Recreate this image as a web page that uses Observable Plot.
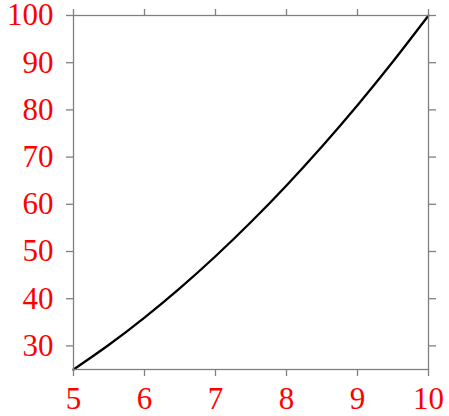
<!DOCTYPE html>
<html>
<head>
<meta charset="utf-8">
<script src="https://cdn.jsdelivr.net/npm/d3@7"></script>
<script src="https://cdn.jsdelivr.net/npm/@observablehq/plot@0.6"></script>
<style>
  html, body { margin: 0; padding: 0; background: #fff; }
  svg { overflow: visible; }
</style>
</head>
<body>
<div id="chart"></div>
<script>
const xValues = [5, 5.5, 6, 6.5, 7, 7.5, 8, 8.5, 9, 9.5, 10];
const yValues = [25, 30.25, 36, 42.25, 49, 56.25, 64, 72.25, 81, 90.25, 100];
const xTicks = [5, 6, 7, 8, 9, 10];
const yTicks = [30, 40, 50, 60, 70, 80, 90, 100];

const data = xValues.map((x, i) => ({x, y: yValues[i]}));
const axisGray = "#808080";
const labelRed = "#ff0000";

const chart = Plot.plot({
  width: 449,
  height: 416,
  marginLeft: 73,
  marginTop: 15,
  marginRight: 21,
  marginBottom: 47,
  style: {fontFamily: "'Liberation Serif', serif", fontSize: "31px", background: "#fff", overflow: "visible"},
  x: {domain: [5, 10]},
  y: {domain: [25, 100]},
  marks: [
    Plot.line(data, {x: "x", y: "y", stroke: "black", strokeWidth: 2.3, curve: "natural"}),
    Plot.frame({stroke: axisGray, strokeWidth: 1.3}),
    Plot.axisX(xTicks, {anchor: "bottom", label: null, tickSize: 7, tickPadding: 10, stroke: axisGray, strokeWidth: 1.3, fill: labelRed}),
    Plot.axisX(xTicks, {anchor: "top", label: null, tickSize: 7, tickFormat: () => "", stroke: axisGray, strokeWidth: 1.3}),
    Plot.axisY(yTicks, {anchor: "left", label: null, tickSize: 7, tickPadding: 13, stroke: axisGray, strokeWidth: 1.3, fill: labelRed}),
    Plot.axisY(yTicks, {anchor: "right", label: null, tickSize: 7, tickFormat: () => "", stroke: axisGray, strokeWidth: 1.3})
  ]
});
document.getElementById("chart").appendChild(chart);
</script>
</body>
</html>
